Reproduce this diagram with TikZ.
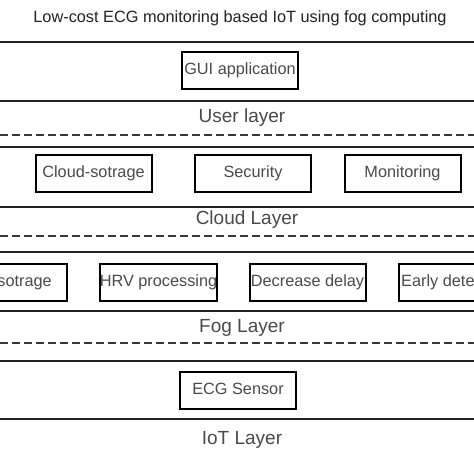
\documentclass[tikz,border=0pt]{standalone}
\usepackage{fontspec}
\setmainfont{Liberation Sans}
\definecolor{txt}{HTML}{4A4A4A}
\definecolor{ttl}{HTML}{222222}
\tikzset{
  boxnode/.style={draw=black, line width=2pt, minimum width=116pt, minimum height=37pt, inner sep=0pt, text=txt, font=\fontsize{16.3}{19}\selectfont, text height=12pt, text depth=3.5pt},
  boxtext/.style={inner sep=0pt, text=txt, font=\fontsize{16.3}{19}\selectfont, text height=12pt, text depth=3.5pt},
  layerlabel/.style={inner sep=0pt, text=txt, font=\fontsize{19}{22}\selectfont},
  solidline/.style={line width=2pt, draw=ttl},
  dashline/.style={line width=1.2pt, draw=ttl!90, dash pattern=on 8pt off 4pt}
}
\begin{document}
\begin{tikzpicture}[x=1pt,y=-1pt]
\useasboundingbox (0,0) rectangle (474,474);
\clip (0,0) rectangle (474,474);
\fill[white] (0,0) rectangle (474,474);
% title
\node[inner sep=0pt, text=ttl, font=\fontsize{16.3}{19}\selectfont] (title) at (240,18) {Low-cost ECG monitoring based IoT using fog computing};
% layer separators
\draw[solidline] (0,42) -- (474,42);
\draw[solidline] (0,101) -- (474,101);
\draw[dashline] (0,135) -- (474,135);
\draw[solidline] (0,147) -- (474,147);
\draw[solidline] (0,207) -- (474,207);
\draw[dashline] (0,236) -- (474,236);
\draw[solidline] (0,252) -- (474,252);
\draw[solidline] (0,311) -- (474,311);
\draw[dashline] (0,343) -- (474,343);
\draw[solidline] (0,361) -- (474,361);
\draw[solidline] (0,419) -- (474,419);
% user layer
\node[boxnode] (gui) at (240,70.5) {GUI application};
\node[layerlabel] (user) at (242,118) {User layer};
% cloud layer
\node[boxnode] (cstore) at (93.5,173) {Cloud-sotrage};
\node[boxnode] (sec) at (253,173) {Security};
\node[boxnode] (mon) at (402.5,173) {Monitoring};
\node[layerlabel] (cloud) at (247,220) {Cloud Layer};
% fog layer
\node[boxnode] (fstore) at (8.5,282) {};
\node[boxtext, anchor=east] (fstoretext) at (52,282) {sotrage};
\node[boxnode] (hrv) at (158.5,282) {HRV processing};
\node[boxnode] (delay) at (307.5,282) {Decrease delay};
\node[boxnode] (early) at (456.5,282) {};
\node[boxtext, anchor=west] (earlytext) at (401,282) {Early detection};
\node[layerlabel] (fog) at (242,328) {Fog Layer};
% iot layer
\node[boxnode] (ecg) at (238,390) {ECG Sensor};
\node[layerlabel] (iot) at (242,440) {IoT Layer};
\end{tikzpicture}
\end{document}
